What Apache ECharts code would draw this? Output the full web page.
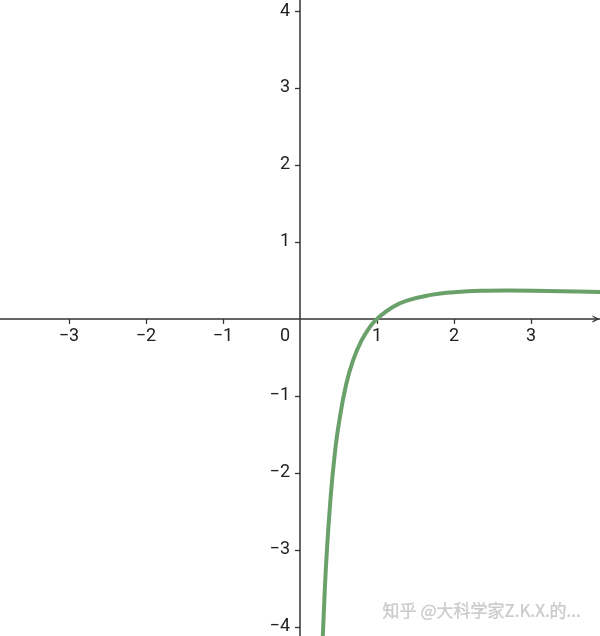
<!DOCTYPE html>
<html><head><meta charset="utf-8">
<script src="https://cdn.jsdelivr.net/npm/echarts@6/dist/echarts.min.js"></script>
<style>html,body{margin:0;padding:0;background:#fff}#c{width:600px;height:636px}</style>
</head><body><div id="c"></div>
<script>
const curveX = [0.29, 0.32, 0.35, 0.40, 0.45, 0.50, 0.60, 0.70, 0.80, 0.90, 1.00, 1.20, 1.40, 1.70, 2.00, 2.40, 2.70, 3.20, 3.60, 3.95];
const curveY = [-4.27, -3.56, -3.00, -2.29, -1.77, -1.39, -0.85, -0.51, -0.28, -0.117, 0, 0.152, 0.240, 0.312, 0.347, 0.365, 0.368, 0.363, 0.356, 0.348];
const xTicks = [-3, -2, -1, 0, 1, 2, 3];
const yTicks = [-4, -3, -2, -1, 1, 2, 3, 4];
const xRange = [-3.896, 3.896];
const yRange = [-4.12, 4.143];
const watermark = '知乎 @大科学家Z.K.X.的...';

const W = 600, H = 636;
const fmt = v => String(v).replace('-', '\u2212');
const xOff = -H * (0 - yRange[0]) / (yRange[1] - yRange[0]);
const yOff = -W * (0 - xRange[0]) / (xRange[1] - xRange[0]);
const chevron = 'path://M0,10 L5,0 L10,10 L8,10 L5,4 L2,10 Z';
const chart = echarts.init(document.getElementById('c'));
chart.setOption({
  animation: false,
  grid: {left: 0, right: 0, top: 0, bottom: 0, containLabel: false, outerBoundsMode: 'none'},
  xAxis: {
    type: 'value', min: xRange[0], max: xRange[1], position: 'bottom', offset: xOff,
    splitLine: {show: false},
    axisLine: {onZero: false, lineStyle: {color: '#333', width: 1.5}, symbol: ['none', chevron], symbolSize: [12, 7], symbolOffset: [0, -4]},
    axisTick: {show: true, inside: false, length: 5, lineStyle: {color: '#333', width: 1.3}, customValues: [-3, -2, -1, 1, 2, 3]},
    axisLabel: {
      customValues: xTicks, margin: 9, fontSize: 18, color: '#222', fontFamily: 'Roboto',
      formatter: v => v === 0 ? '{z|0}' : fmt(v),
      rich: {z: {fontSize: 18, color: '#222', fontFamily: 'Roboto', padding: [0, 30, 0, 0]}}
    }
  },
  yAxis: {
    type: 'value', min: yRange[0], max: yRange[1], position: 'left', offset: yOff,
    splitLine: {show: false},
    axisLine: {onZero: false, lineStyle: {color: '#333', width: 1.5}},
    axisTick: {show: true, inside: false, length: 5, lineStyle: {color: '#333', width: 1.3}, customValues: yTicks},
    axisLabel: {customValues: yTicks, margin: 10, fontSize: 18, color: '#222', fontFamily: 'Roboto', formatter: fmt}
  },
  series: [{
    type: 'line', smooth: true, symbol: 'none', clip: true,
    data: curveX.map((x, i) => [x, curveY[i]]),
    lineStyle: {color: '#6aa06a', width: 4}
  }],
  title: {
    text: watermark, right: 14, bottom: 12,
    textStyle: {fontSize: 17, fontWeight: 'normal', color: '#cccccc', fontFamily: 'Noto Sans CJK SC', textBorderColor: '#999', textBorderWidth: 0.2}
  }
});
</script></body></html>
